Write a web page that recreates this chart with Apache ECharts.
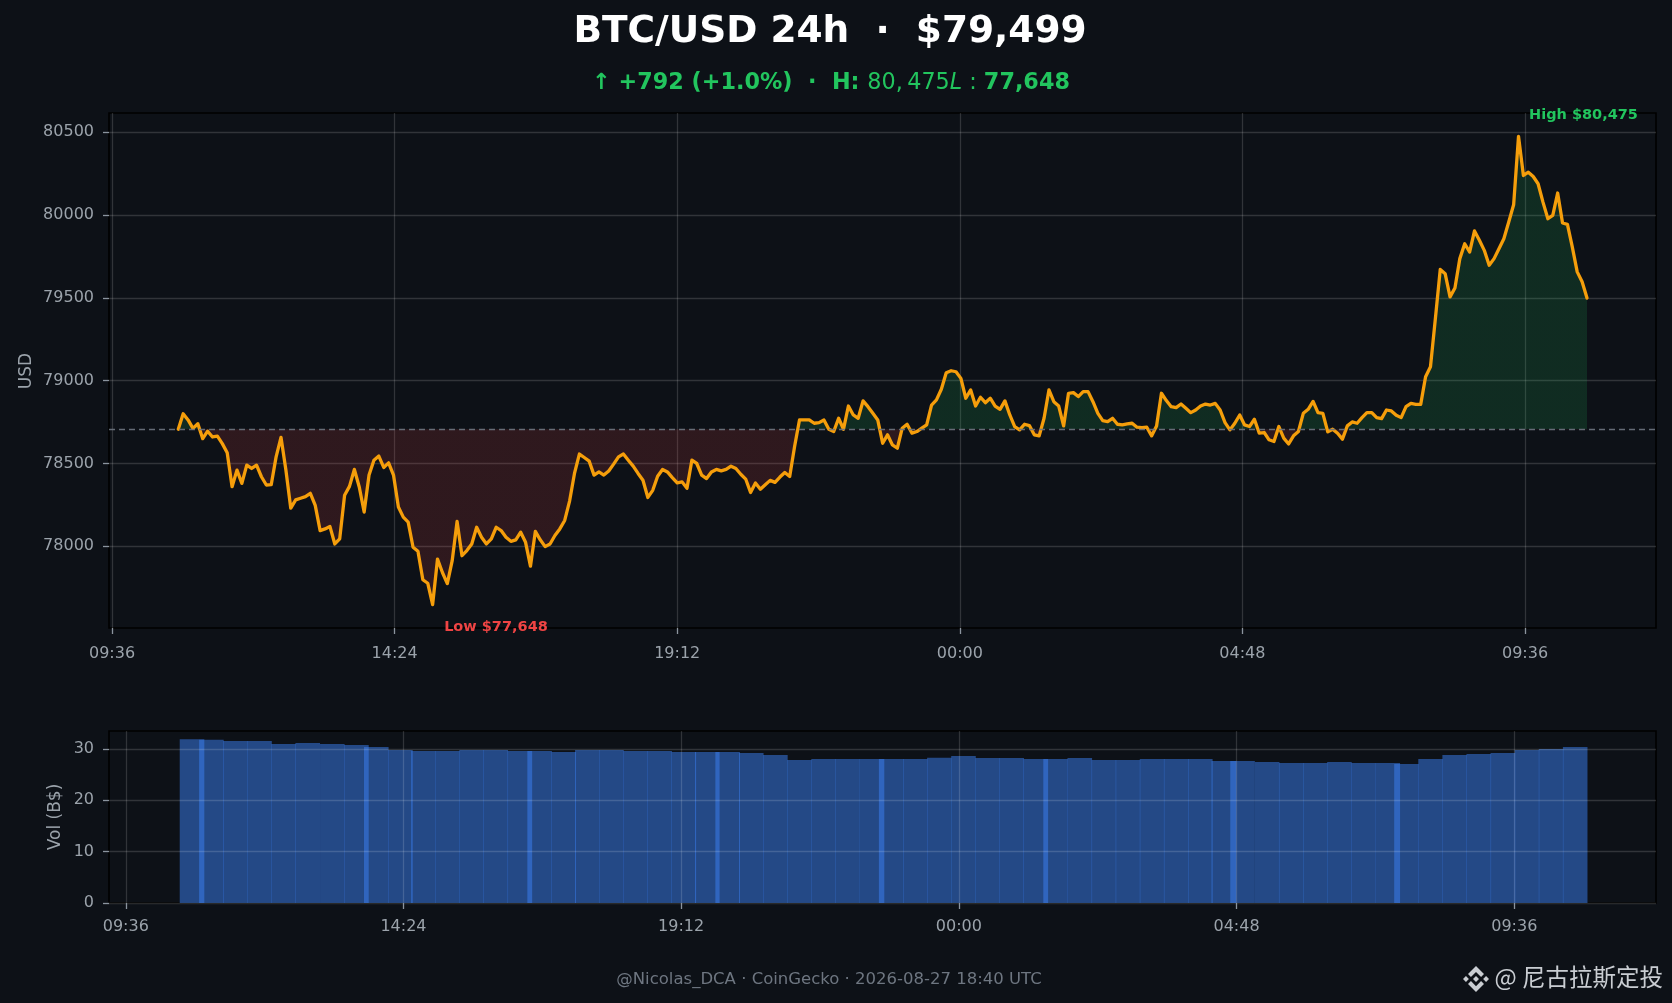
<!DOCTYPE html>
<html><head><meta charset="utf-8">
<script src="https://cdn.jsdelivr.net/npm/echarts@6/dist/echarts.min.js"></script>
<style>html,body{margin:0;padding:0;background:#0d1117;}#chart{width:1672px;height:1003px;}</style>
</head><body><div id="chart"></div>
<script>
// ---------- DATA ----------
// BTC/USD price, 5-minute samples (USD)
const priceValues = [
78707, 78800, 78763, 78712, 78740, 78650, 78695, 78660, 78665, 78620,
78565, 78360, 78460, 78380, 78490, 78470, 78490, 78420, 78370, 78372,
78540, 78658, 78460, 78230, 78280, 78290, 78300, 78320, 78247, 78095,
78105, 78120, 78014, 78045, 78308, 78362, 78464, 78358, 78207, 78430,
78520, 78545, 78476, 78504, 78430, 78237, 78176, 78146, 77994, 77970,
77798, 77777, 77648, 77923, 77842, 77775, 77913, 78150, 77943, 77974,
78014, 78115, 78055, 78014, 78045, 78115, 78095, 78055, 78030, 78039,
78085, 78024, 77880, 78090, 78039, 77998, 78014, 78065, 78105, 78156,
78273, 78440, 78557, 78536, 78514, 78430, 78449, 78430, 78455, 78496,
78540, 78557, 78520, 78484, 78440, 78399, 78295, 78338, 78423, 78464,
78449, 78415, 78383, 78389, 78350, 78520, 78500, 78430, 78409, 78449,
78464, 78455, 78464, 78484, 78470, 78435, 78406, 78325, 78382, 78345,
78372, 78398, 78386, 78418, 78446, 78422, 78602, 78763, 78763, 78763,
78743, 78747, 78763, 78707, 78693, 78773, 78707, 78847, 78793, 78773,
78878, 78843, 78803, 78763, 78622, 78673, 78612, 78592, 78713, 78737,
78683, 78693, 78713, 78733, 78853, 78884, 78948, 79048, 79060, 79054,
79014, 78894, 78944, 78847, 78900, 78867, 78894, 78847, 78827, 78878,
78793, 78723, 78703, 78737, 78729, 78673, 78667, 78773, 78944, 78873,
78847, 78727, 78924, 78928, 78904, 78934, 78934, 78873, 78803, 78759,
78753, 78773, 78737, 78733, 78739, 78743, 78719, 78717, 78719, 78667,
78727, 78924, 78880, 78843, 78837, 78859, 78833, 78807, 78823, 78847,
78859, 78853, 78863, 78823, 78747, 78703, 78743, 78793, 78733, 78723,
78767, 78683, 78687, 78643, 78633, 78723, 78653, 78618, 78667, 78693,
78803, 78827, 78875, 78807, 78803, 78691, 78707, 78683, 78647, 78727,
78751, 78743, 78777, 78807, 78807, 78777, 78771, 78823, 78817, 78791,
78777, 78843, 78863, 78857, 78857, 79024, 79084, 79375, 79672, 79646,
79506, 79560, 79737, 79827, 79777, 79904, 79848, 79787, 79697, 79737,
79797, 79857, 79958, 80062, 80475, 80239, 80259, 80233, 80189, 80078,
79978, 79998, 80133, 79952, 79944, 79807, 79657, 79597, 79499
];
// sample times: minutes since 2026-08-26 00:00 (local)
const priceStartMin = 643.5;
const priceStepMin = 4.985;
const openPrice = 78707;

// 24h volume (billions USD), bar centre times in minutes since 2026-08-26 00:00
const volTimesMin = [
644.7, 664.8, 689.7, 714.7, 739.7, 764.7, 790.2, 815.2, 835.8, 860.8,
884.7, 909.7, 934.7, 959.7, 984.7, 1005.2, 1030.2, 1054.7, 1079.7, 1104.7,
1129.7, 1154.7, 1179.1, 1200.2, 1224.7, 1249.7, 1274.7, 1299.7, 1324.7, 1349.9,
1369.8, 1394.8, 1419.8, 1444.8, 1469.8, 1494.8, 1519.8, 1540.3, 1565.4, 1590.4,
1615.4, 1640.4, 1665.4, 1690.4, 1714.8, 1734.2, 1759.7, 1784.7, 1809.7, 1834.7,
1859.7, 1884.8, 1904.2, 1929.2, 1954.2, 1979.2, 2004.2, 2029.2, 2054.2, 2079.2
];
const volValues = [
31.90, 31.77, 31.57, 31.57, 30.98, 31.18, 30.98, 30.79, 30.40, 29.81,
29.62, 29.62, 29.81, 29.81, 29.62, 29.62, 29.42, 29.81, 29.81, 29.62,
29.62, 29.42, 29.42, 29.42, 29.22, 28.83, 27.85, 28.05, 28.05, 28.05,
28.05, 28.05, 28.31, 28.64, 28.25, 28.25, 28.05, 28.05, 28.25, 27.85,
27.85, 28.05, 28.05, 28.05, 27.66, 27.66, 27.46, 27.27, 27.27, 27.46,
27.27, 27.27, 27.07, 28.05, 28.83, 29.03, 29.22, 29.81, 30.00, 30.40
];
const volBarWidthMin = 25.5;

// axis ranges (minutes since 2026-08-26 00:00)
const priceAxisRange = [572.9, 2149.5];
const volAxisRange = [558.6, 2163.0];

// tick values
const xTickMin = [576, 864, 1152, 1440, 1728, 2016];
const priceTicks = [78000, 78500, 79000, 79500, 80000, 80500];
const volTicks = [0, 10, 20, 30];

// texts
const titleText = 'BTC/USD 24h  ·  $79,499';
const changeText = '↑ +792 (+1.0%)  ·  H: ';
const footerText = '@Nicolas_DCA · CoinGecko · 2026-08-27 18:40 UTC';
const watermarkText = '@ 尼古拉斯定投';

// ---------- BUILD ----------
const FONT = "'DejaVu Sans', 'Noto Sans', sans-serif";
const priceData = priceValues.map((v, i) => [priceStartMin + i * priceStepMin, v]);
const pMin = Math.min(...priceValues), pMax = Math.max(...priceValues);
const iMin = priceValues.indexOf(pMin), iMax = priceValues.indexOf(pMax);
const pPad = 0.05 * (pMax - pMin);
const volMax = Math.max(...volValues) * 1.05;
const volData = volTimesMin.map((t, i) => [t, volValues[i]]);
const fmtUsd = v => v.toLocaleString('en-US');
const splitAt = (pMax - openPrice) / (pMax - pMin);

function fmtTime(m) {
  const mm = ((Math.round(m) % 1440) + 1440) % 1440;
  const h = Math.floor(mm / 60), mi = mm % 60;
  return String(h).padStart(2, '0') + ':' + String(mi).padStart(2, '0');
}

const LABEL_COLOR = '#9ba3ab';
const TICK_COLOR = '#8b949e';
const GRID_COLOR = 'rgba(255,255,255,0.15)';
const GREEN = '#22c55e';
const RED = '#ef4444';
const ORANGE = '#f59e0b';

function xAxisCfg(gridIndex, range, z, margin) {
  return {
    type: 'value', gridIndex, min: range[0], max: range[1], z,
    axisLine: { show: false },
    axisTick: { show: true, customValues: xTickMin, length: 6, lineStyle: { color: TICK_COLOR, width: 1.3 } },
    axisLabel: { customValues: xTickMin, formatter: fmtTime, color: LABEL_COLOR, fontSize: 16, fontFamily: FONT, margin, lineHeight: 16 },
    splitLine: { show: true, lineStyle: { color: GRID_COLOR, width: 1.3 } }
  };
}
function yAxisCfg(gridIndex, min, max, ticks, z) {
  return {
    type: 'value', gridIndex, min, max, z,
    axisLine: { show: false },
    axisTick: { show: true, customValues: ticks, length: 6, lineStyle: { color: TICK_COLOR, width: 1.3 } },
    axisLabel: { customValues: ticks, formatter: v => String(Math.round(v)), color: LABEL_COLOR, fontSize: 16, fontFamily: FONT, margin: 15, padding: [3, 0, 0, 0] },
    splitLine: { show: true, lineStyle: { color: GRID_COLOR, width: 1.3 } }
  };
}

// Binance-style logo outline (decoration, in a 126.6-unit box)
const logoShapes = [
  [[38.73,53.2],[63.32,28.62],[87.92,53.22],[102.22,38.91],[63.32,0],[24.42,38.9]],
  [[0,63.31],[14.3,49],[28.61,63.31],[14.3,77.61]],
  [[38.73,73.42],[63.32,98.01],[87.92,73.41],[102.23,87.7],[63.33,126.61],[24.42,87.73]],
  [[98.01,63.32],[112.31,49.01],[126.62,63.31],[112.31,77.62]],
  [[77.83,63.3],[63.32,48.78],[48.81,63.3],[63.32,77.82]]
];
const LOGO_SCALE = 26 / 126.61;
const logoGroup = {
  type: 'group', x: 1463, y: 966, silent: true,
  children: logoShapes.map(pts => ({
    type: 'polygon',
    shape: { points: pts.map(p => [p[0] * LOGO_SCALE, p[1] * LOGO_SCALE]) },
    style: { fill: '#c9cdd2' }
  }))
};

const chart = echarts.init(document.getElementById('chart'), null, { renderer: 'canvas' });
chart.setOption({
  backgroundColor: '#0d1117',
  animation: false,
  textStyle: { fontFamily: FONT },
  grid: [
    { left: 109, top: 113, width: 1547, height: 515, show: true, borderColor: '#000000', borderWidth: 1.6, backgroundColor: 'transparent' },
    { left: 109, top: 731, width: 1547, height: 172, show: true, borderColor: '#000000', borderWidth: 1.6, backgroundColor: 'transparent' }
  ],
  xAxis: [
    xAxisCfg(0, priceAxisRange, 0, 18),
    xAxisCfg(1, volAxisRange, 5, 16)
  ],
  yAxis: [
    yAxisCfg(0, pMin - pPad, pMax + pPad, priceTicks, 0),
    yAxisCfg(1, 0, volMax, volTicks, 5)
  ],
  series: [
    {
      name: 'fill', type: 'line', xAxisIndex: 0, yAxisIndex: 0, data: priceData,
      symbol: 'none', silent: true, z: 1,
      lineStyle: { width: 0, opacity: 0 },
      areaStyle: {
        origin: openPrice, opacity: 1,
        color: {
          type: 'linear', x: 0, y: 0, x2: 0, y2: 1,
          colorStops: [
            { offset: 0, color: 'rgba(34,197,94,0.15)' },
            { offset: splitAt, color: 'rgba(34,197,94,0.15)' },
            { offset: splitAt, color: 'rgba(239,68,68,0.15)' },
            { offset: 1, color: 'rgba(239,68,68,0.15)' }
          ]
        }
      }
    },
    {
      name: 'price', type: 'line', xAxisIndex: 0, yAxisIndex: 0, data: priceData,
      symbol: 'none', silent: true, z: 4,
      lineStyle: { color: ORANGE, width: 3.3, join: 'round', cap: 'round' },
      markLine: {
        silent: true, symbol: ['none', 'none'], label: { show: false },
        lineStyle: { color: '#6e7681', width: 1.3, type: [6, 4], opacity: 0.9 },
        data: [{ yAxis: openPrice }]
      }
    },
    {
      name: 'high', type: 'scatter', xAxisIndex: 0, yAxisIndex: 0, z: 6,
      data: [priceData[iMax]], symbolSize: 1, itemStyle: { color: 'rgba(0,0,0,0)', opacity: 1 }, silent: true,
      label: { show: true, formatter: 'High $' + fmtUsd(pMax), position: [11, -21], align: 'left', verticalAlign: 'middle',
               color: GREEN, opacity: 1, textBorderWidth: 0, fontWeight: 'bold', fontSize: 14.5, fontFamily: FONT }
    },
    {
      name: 'low', type: 'scatter', xAxisIndex: 0, yAxisIndex: 0, z: 6,
      data: [priceData[iMin]], symbolSize: 1, itemStyle: { color: 'rgba(0,0,0,0)', opacity: 1 }, silent: true,
      label: { show: true, formatter: 'Low $' + fmtUsd(pMin), position: [12, 23], align: 'left', verticalAlign: 'middle',
               color: RED, opacity: 1, textBorderWidth: 0, fontWeight: 'bold', fontSize: 14.5, fontFamily: FONT }
    },
    {
      name: 'volume', type: 'custom', coordinateSystem: 'cartesian2d', xAxisIndex: 1, yAxisIndex: 1, data: volData, silent: true, z: 2,
      renderItem: function (params, api) {
        const t = api.value(0), v = api.value(1);
        const p0 = api.coord([t - volBarWidthMin / 2, v]);
        const p1 = api.coord([t + volBarWidthMin / 2, 0]);
        return {
          type: 'rect',
          shape: { x: p0[0], y: p0[1], width: p1[0] - p0[0], height: p1[1] - p0[1] },
          style: { fill: 'rgba(59,130,246,0.5)' }
        };
      }
    }
  ],
  graphic: [
    { type: 'text', x: 830, y: 32, silent: true,
      style: { text: titleText, fill: '#ffffff', fontSize: 37.5, fontWeight: 'bold', fontFamily: FONT, align: 'center', verticalAlign: 'middle' } },
    { type: 'text', x: 831, y: 83, silent: true,
      style: {
        text: '{b|' + changeText + '}{r|' + '80,\u2009475' + '}{i|L}{r| : }{b|' + fmtUsd(pMin) + '}',
        align: 'center', verticalAlign: 'middle',
        rich: {
          b: { fill: GREEN, fontSize: 22.3, fontWeight: 'bold', fontFamily: FONT },
          r: { fill: GREEN, fontSize: 22.3, fontWeight: 'normal', fontFamily: FONT },
          i: { fill: GREEN, fontSize: 22.3, fontWeight: 'normal', fontStyle: 'italic', fontFamily: FONT }
        }
      } },
    { type: 'text', x: 27, y: 371, rotation: Math.PI / 2, silent: true,
      style: { text: 'USD', fill: LABEL_COLOR, fontSize: 17, fontFamily: FONT, align: 'center', verticalAlign: 'middle' } },
    { type: 'text', x: 56, y: 817, rotation: Math.PI / 2, silent: true,
      style: { text: 'Vol (B$)', fill: LABEL_COLOR, fontSize: 17, fontFamily: FONT, align: 'center', verticalAlign: 'middle' } },
    { type: 'text', x: 829, y: 980, silent: true,
      style: { text: footerText, fill: '#6e7681', fontSize: 16.5, fontFamily: FONT, align: 'center', verticalAlign: 'middle' } },
    logoGroup,
    { type: 'text', x: 1663, y: 977, silent: true,
      style: { text: watermarkText, fill: '#c9cdd2', fontSize: 23.5, fontFamily: "'Noto Sans CJK SC', 'DejaVu Sans', sans-serif", align: 'right', verticalAlign: 'middle' } }
  ]
});
</script></body></html>
